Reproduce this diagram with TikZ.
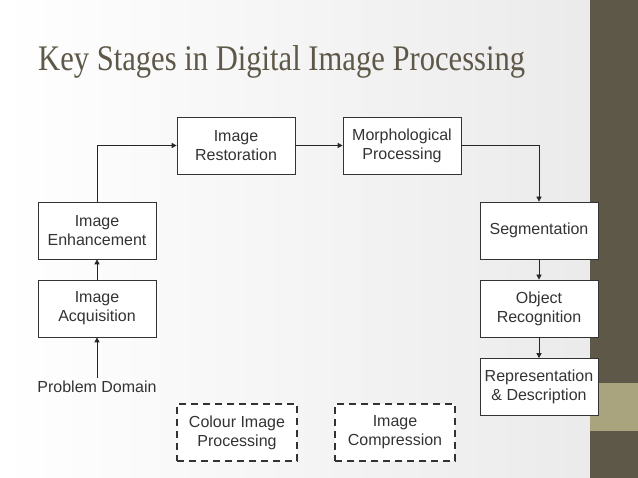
\documentclass[tikz,border=0pt]{standalone}
\usepackage{fontspec}
\setmainfont{Liberation Sans}
\newfontfamily\titlefont{Liberation Serif}
\usetikzlibrary{arrows.meta}
\definecolor{olive}{HTML}{5E5848}
\definecolor{tan}{HTML}{A9A37E}
\definecolor{txt}{HTML}{333333}
\begin{document}
\begin{tikzpicture}[x=1pt,y=-1pt,
  box/.style={draw=black!80,fill=white,line width=0.7pt,minimum width=118pt,minimum height=57pt,align=center,font=\fontsize{16}{19}\selectfont,text=txt,inner sep=0pt},
  dbox/.style={box,dash pattern=on 7pt off 5pt,line width=1.3pt,minimum width=120pt},
  arr/.style={-{Triangle[length=5pt,width=5pt]},black!85,line width=0.7pt}]
\useasboundingbox (0,0) rectangle (638,478);
\shade[left color=white,right color=black!8] (0,0) rectangle (590,478);
\fill[olive] (590,0) rectangle (638,478);
\fill[tan] (590,383) rectangle (638,431);
\node[anchor=west,text=olive,font=\titlefont\fontsize{36}{40}\selectfont,inner sep=0pt] (title) at (38,62) {\addfontfeature{FakeStretch=0.85}Key Stages in Digital Image Processing};
\node[box] (rest) at (236,145.5) {Image\\Restoration};
\node[box] (morph) at (402,145.5) {Morphological\\Processing};
\node[box] (enh) at (97,230.5) {Image\\Enhancement};
\node[box] (seg) at (539,230.5) {Segmentation};
\node[box] (acq) at (97,308.5) {Image\\Acquisition};
\node[box] (obj) at (539,308.5) {Object\\Recognition};
\node[box] (rep) at (539,387) {Representation\\\& Description};
\node[dbox] (col) at (237,432.5) {Colour Image\\Processing};
\node[dbox] (comp) at (395,432.5) {Image\\Compression};
\node[font=\fontsize{16}{19}\selectfont,text=txt] (pd) at (97,387) {Problem Domain};
\draw[arr] (pd.north) -- (acq.south);
\draw[arr] (acq.north) -- (enh.south);
\draw[arr] (enh.north) |- (rest.west);
\draw[arr] (rest.east) -- (morph.west);
\draw[arr] (morph.east) -| (seg.north);
\draw[arr] (seg.south) -- (obj.north);
\draw[arr] (obj.south) -- (rep.north);
\end{tikzpicture}
\end{document}
